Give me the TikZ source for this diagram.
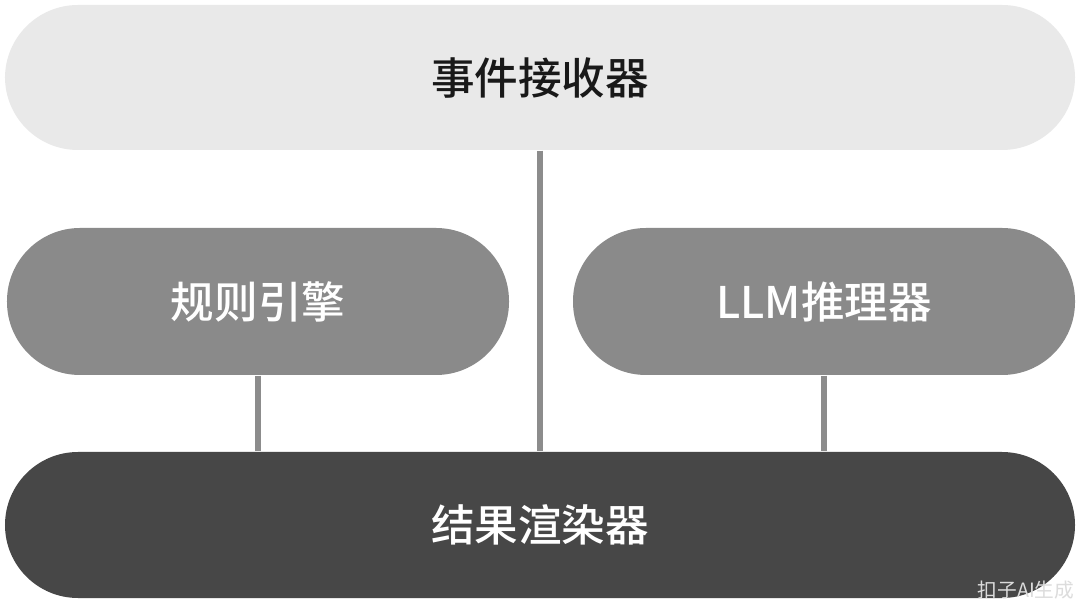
\documentclass[tikz,border=0pt]{standalone}
\usepackage{fontspec}
\newfontfamily\cjk{Noto Sans CJK SC Medium}
\newfontfamily\cjkplain{Noto Sans CJK SC}
\definecolor{toplight}{HTML}{E9E9E9}
\definecolor{midgray}{HTML}{8A8A8A}
\definecolor{lowdark}{HTML}{474747}
\definecolor{linkgray}{HTML}{8C8C8C}
\definecolor{markgray}{HTML}{DCDCDC}

\begin{document}
\begin{tikzpicture}[line cap=butt,line join=round,x=1.0cm,y=1.0cm,
    pill/.style={rectangle,inner sep=0pt,rounded corners=0.73cm,font=\cjk\fontsize{12.4}{15}\selectfont},
    link/.style={color=linkgray,line width=1.7pt}]
    \fill[white] (0,0) rectangle (10.8,-6.07);
    \useasboundingbox (0,0) rectangle (10.8,-6.07);
    % boxes
    \node[pill,fill=toplight,text=black!90,minimum width=10.70cm,minimum height=1.45cm] (receiver) at (5.40,-0.775) {事件接收器};
    \node[pill,fill=midgray,text=white,minimum width=5.02cm,minimum height=1.47cm] (rules) at (2.58,-3.015) {规则引擎};
    \node[pill,fill=midgray,text=white,minimum width=5.02cm,minimum height=1.47cm] (llm) at (8.24,-3.015) {LLM推理器};
    \node[pill,fill=lowdark,text=white,minimum width=10.70cm,minimum height=1.46cm] (renderer) at (5.40,-5.25) {结果渲染器};
    % links
    \draw[link] (receiver.south) -- (renderer.north);
    \draw[link] (rules.south) -- (rules.south |- renderer.north);
    \draw[link] (llm.south) -- (llm.south |- renderer.north);
    \node[anchor=east,inner sep=0pt,text=markgray,font=\cjkplain\fontsize{5.6}{6}\selectfont] (mark) at (10.75,-5.90) {扣子AI生成};
\end{tikzpicture}
\end{document}
